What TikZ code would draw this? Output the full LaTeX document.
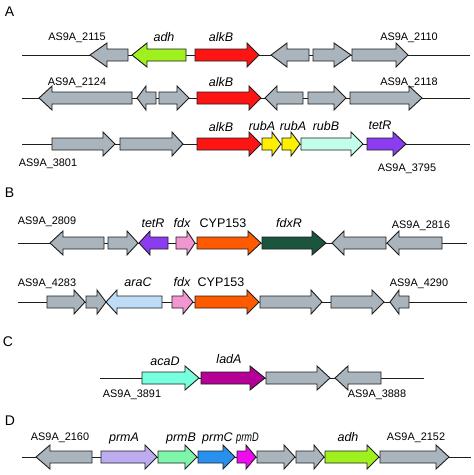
\documentclass[tikz,border=0pt]{standalone}
\usepackage{fontspec}
\setmainfont{Liberation Sans}
\definecolor{ggray}{RGB}{170,180,188}
\definecolor{glime}{RGB}{160,240,30}
\definecolor{gred}{RGB}{255,20,20}
\definecolor{gyellow}{RGB}{255,240,0}
\definecolor{gmint}{RGB}{195,255,232}
\definecolor{gpurple}{RGB}{140,60,240}
\definecolor{gpink}{RGB}{242,150,210}
\definecolor{gorange}{RGB}{255,90,0}
\definecolor{gdark}{RGB}{28,85,62}
\definecolor{glblue}{RGB}{190,220,245}
\definecolor{gaqua}{RGB}{120,255,222}
\definecolor{gmagenta}{RGB}{180,0,150}
\definecolor{glav}{RGB}{190,172,240}
\definecolor{gmgreen}{RGB}{125,245,170}
\definecolor{gblue}{RGB}{40,145,240}
\definecolor{gpinkm}{RGB}{240,10,240}
\definecolor{gline}{RGB}{30,30,30}
\newcommand\rgene[6]{%
  \draw[gene,fill=#6] ({#2},{#5-6}) -- ({#3},{#5-6}) -- ({#3},{#5-12}) -- ({#4},{#5}) -- ({#3},{#5+12}) -- ({#3},{#5+6}) -- ({#2},{#5+6}) -- cycle;
  \coordinate (#1) at ({(#2+#4)/2},{#5});}
\newcommand\lgene[6]{%
  \draw[gene,fill=#6] ({#4},{#5-6}) -- ({#3},{#5-6}) -- ({#3},{#5-12}) -- ({#2},{#5}) -- ({#3},{#5+12}) -- ({#3},{#5+6}) -- ({#4},{#5+6}) -- cycle;
  \coordinate (#1) at ({(#2+#4)/2},{#5});}
\begin{document}
\begin{tikzpicture}[x=1pt,y=-1pt,
  gene/.style={draw=gline,line width=0.9pt,line join=miter},
  backbone/.style={draw=gline,line width=0.9pt},
  lab/.style={anchor=base,inner sep=0pt,font=\fontsize{10.9}{12}\selectfont},
  glab/.style={anchor=base,inner sep=0pt,font=\fontsize{12.5}{14}\selectfont\itshape},
  blab/.style={anchor=base,inner sep=0pt,font=\fontsize{12.5}{14}\selectfont},
  panel/.style={anchor=base,inner sep=0pt,font=\fontsize{14}{16}\selectfont}]
\useasboundingbox (0,0) rectangle (474,475);
\fill[white] (0,0) rectangle (474,475);
% panel letters
\node[panel] (pA) at (9.5,16) {A};
\node[panel] (pB) at (9.5,197) {B};
\node[panel] (pC) at (8,346) {C};
\node[panel] (pD) at (10,425) {D};
% ---------- Row A1
\coordinate (a1l) at (22,55); \coordinate (a1r) at (470,55);
\draw[backbone] (a1l) -- (a1r);
\lgene{a1g1}{90}{107}{128}{55}{ggray}
\lgene{a1adh}{132}{147}{186}{55}{glime}
\rgene{a1alk}{195}{247}{259}{55}{gred}
\lgene{a1g2}{271}{287}{309}{55}{ggray}
\rgene{a1g3}{313}{334}{351}{55}{ggray}
\rgene{a1g4}{352}{396}{408}{55}{ggray}
\node[lab] (ta1a) at (77,40.5) {AS9A\_2115};
\node[glab] (ta1b) at (164,41) {adh};
\node[glab] (ta1c) at (221,41) {alkB};
\node[lab] (ta1d) at (409,40.5) {AS9A\_2110};
% ---------- Row A2
\coordinate (a2l) at (22,98); \coordinate (a2r) at (470,98);
\draw[backbone] (a2l) -- (a2r);
\lgene{a2g1}{39}{52}{132}{98}{ggray}
\lgene{a2g2}{137}{146}{156}{98}{ggray}
\rgene{a2g3}{159}{177}{189}{98}{ggray}
\rgene{a2alk}{197}{249}{261}{98}{gred}
\lgene{a2g4}{265}{277}{303}{98}{ggray}
\rgene{a2g5}{308}{334}{346}{98}{ggray}
\rgene{a2g6}{350}{409}{422}{98}{ggray}
\node[lab] (ta2a) at (77,85) {AS9A\_2124};
\node[glab] (ta2b) at (221,86) {alkB};
\node[lab] (ta2c) at (409,85) {AS9A\_2118};
% ---------- Row A3
\coordinate (a3l) at (22,144); \coordinate (a3r) at (470,144);
\draw[backbone] (a3l) -- (a3r);
\rgene{a3g1}{52}{103}{115}{144}{ggray}
\rgene{a3g2}{120}{172}{183}{144}{ggray}
\rgene{a3alk}{197}{249}{261}{144}{gred}
\rgene{a3ra1}{262}{272}{281}{144}{gyellow}
\rgene{a3ra2}{282}{291}{300}{144}{gyellow}
\rgene{a3rb}{301}{351}{363}{144}{gmint}
\rgene{a3tet}{367}{393}{406}{144}{gpurple}
\node[glab] (ta3a) at (221,131) {alkB};
\node[glab] (ta3b) at (262,130) {rubA};
\node[glab] (ta3c) at (293,130) {rubA};
\node[glab] (ta3d) at (326,130) {rubB};
\node[glab] (ta3e) at (380,129) {tetR};
\node[lab] (ta3f) at (48,166) {AS9A\_3801};
\node[lab] (ta3g) at (407,171) {AS9A\_3795};
% ---------- Row B1
\coordinate (b1l) at (18,243); \coordinate (b1r) at (467,243);
\draw[backbone] (b1l) -- (b1r);
\lgene{b1g1}{50}{63}{104}{243}{ggray}
\rgene{b1g2}{108}{127}{138}{243}{ggray}
\lgene{b1tet}{139}{150}{168}{243}{gpurple}
\rgene{b1fdx}{176}{187}{195}{243}{gpink}
\rgene{b1cyp}{197}{248}{261}{243}{gorange}
\rgene{b1fdxr}{262}{312}{326}{243}{gdark}
\lgene{b1g3}{332}{344}{386}{243}{ggray}
\lgene{b1g4}{387}{399}{442}{243}{ggray}
\node[lab] (tb1a) at (47,224) {AS9A\_2809};
\node[glab] (tb1b) at (153,227) {tetR};
\node[glab] (tb1c) at (182,227) {fdx};
\node[blab] (tb1d) at (223,227) {CYP153};
\node[glab] (tb1e) at (289,227) {fdxR};
\node[lab] (tb1f) at (421,228) {AS9A\_2816};
% ---------- Row B2
\coordinate (b2l) at (18,302); \coordinate (b2r) at (467,302);
\draw[backbone] (b2l) -- (b2r);
\rgene{b2g1}{47}{74}{85}{302}{ggray}
\rgene{b2g2}{86}{97}{106}{302}{ggray}
\lgene{b2ara}{106}{117}{162}{302}{glblue}
\rgene{b2fdx}{172}{183}{193}{302}{gpink}
\rgene{b2cyp}{195}{247}{259}{302}{gorange}
\rgene{b2g3}{260}{311}{322}{302}{ggray}
\rgene{b2g4}{331}{372}{384}{302}{ggray}
\lgene{b2g5}{390}{399}{409}{302}{ggray}
\node[lab] (tb2a) at (47,286) {AS9A\_4283};
\node[glab] (tb2b) at (138,286) {araC};
\node[glab] (tb2c) at (182,286) {fdx};
\node[blab] (tb2d) at (221,286) {CYP153};
\node[lab] (tb2e) at (419,286) {AS9A\_4290};
% ---------- Row C
\coordinate (cl) at (100,378); \coordinate (cr) at (424,378);
\draw[backbone] (cl) -- (cr);
\rgene{cacad}{142}{185}{199}{378}{gaqua}
\rgene{clad}{201}{250}{265}{378}{gmagenta}
\rgene{cg1}{266}{317}{330}{378}{ggray}
\lgene{cg2}{335}{348}{381}{378}{ggray}
\node[glab] (tca) at (165,365) {acaD};
\node[glab] (tcb) at (229,363) {ladA};
\node[lab] (tcc) at (132,397) {AS9A\_3891};
\node[lab] (tcd) at (377,397) {AS9A\_3888};
% ---------- Row D
\coordinate (dl) at (22,457); \coordinate (dr) at (471,457);
\draw[backbone] (dl) -- (dr);
\lgene{dg1}{36}{50}{92}{457}{ggray}
\rgene{dpa}{101}{145}{157}{457}{glav}
\rgene{dpb}{158}{185}{197}{457}{gmgreen}
\rgene{dpc}{198}{223}{235}{457}{gblue}
\rgene{dpd}{237}{246}{256}{457}{gpinkm}
\rgene{dg2}{257}{284}{295}{457}{ggray}
\rgene{dg3}{296}{314}{324}{457}{ggray}
\rgene{dadh}{325}{367}{379}{457}{glime}
\rgene{dg4}{380}{436}{449}{457}{ggray}
\node[lab] (tda) at (60,440) {AS9A\_2160};
\node[glab] (tdb) at (124,441) {prmA};
\node[glab] (tdc) at (181,441) {prmB};
\node[glab] (tdd) at (217.5,441) {prmC};
\node[glab] (tde) at (247.5,441) {\scalebox{0.74}[1]{prmD}};
\node[glab] (tdf) at (348,441) {adh};
\node[lab] (tdg) at (416,440) {AS9A\_2152};
\end{tikzpicture}
\end{document}
